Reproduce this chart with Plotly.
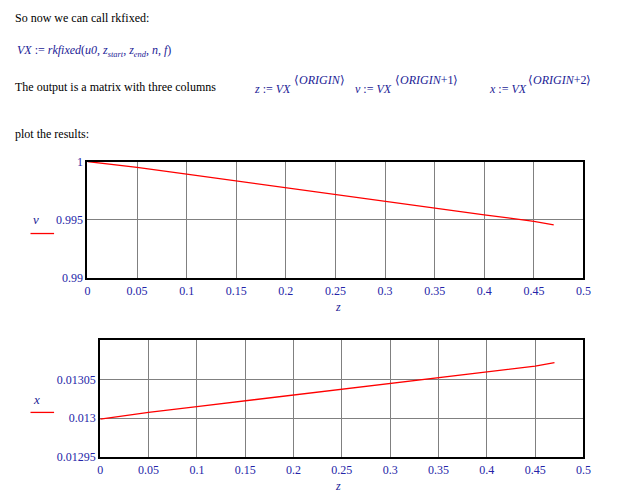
import plotly.graph_objects as go

W, H = 618, 504

# data
z_vals = [0.0, 0.05, 0.10, 0.15, 0.20, 0.25, 0.30, 0.35, 0.40, 0.45, 0.47]
v_vals = [1.0, 0.9995, 0.99892, 0.99833, 0.9978, 0.99717, 0.99658, 0.996, 0.99544, 0.99488, 0.99458]
x_vals = [0.012999, 0.0130075, 0.013015, 0.0130225, 0.01303, 0.0130379, 0.0130445,
          0.013052, 0.01306, 0.013067, 0.0130714]

z_ticks = [0, 0.05, 0.1, 0.15, 0.2, 0.25, 0.3, 0.35, 0.4, 0.45, 0.5]
z_tick_text = ["0", "0.05", "0.1", "0.15", "0.2", "0.25", "0.3", "0.35", "0.4", "0.45", "0.5"]
v_ticks = [0.99, 0.995, 1.0]
v_tick_text = ["0.99", "0.995", "1"]
x_ticks = [0.01295, 0.013, 0.01305, 0.0131]
x_tick_text = ["0.01295", "0.013", "0.01305", ""]

SERIF = "Liberation Serif"
TICKC = "#2424a8"
MATHC = "#1c1c96"


def px(x):
    return x / W


def py(y):
    return 1 - y / H


fig = go.Figure()
fig.add_trace(go.Scatter(x=z_vals, y=v_vals, mode="lines", line=dict(color="#ff0000", width=1.3),
                         xaxis="x", yaxis="y", showlegend=False, hoverinfo="skip"))
fig.add_trace(go.Scatter(x=z_vals, y=x_vals, mode="lines", line=dict(color="#ff0000", width=1.3),
                         xaxis="x2", yaxis="y2", showlegend=False, hoverinfo="skip"))

axis_common = dict(showline=True, linecolor="black", linewidth=2, mirror=True,
                   showgrid=True, gridcolor="#808080", gridwidth=1.3, zeroline=False,
                   ticks="", tickfont=dict(family=SERIF, size=12, color=TICKC))

fig.update_layout(
    width=W, height=H, margin=dict(l=0, r=0, t=0, b=0),
    paper_bgcolor="white", plot_bgcolor="white", showlegend=False,
    xaxis=dict(domain=[px(86), px(591)], range=[0, 0.5], tickvals=z_ticks, ticktext=z_tick_text,
               anchor="y", **axis_common),
    yaxis=dict(domain=[py(279), py(159)], range=[0.99, 1.0], tickvals=v_ticks, ticktext=v_tick_text,
               anchor="x", **axis_common),
    xaxis2=dict(domain=[px(99), px(591)], range=[0, 0.5], tickvals=z_ticks, ticktext=z_tick_text,
                anchor="y2", **axis_common),
    yaxis2=dict(domain=[py(463), py(343)], range=[0.01295, 0.0131], tickvals=x_ticks, ticktext=x_tick_text,
                anchor="x2", **axis_common),
)

ann = []


def text(x, y, s, size=12, color="black", xanchor="left"):
    ann.append(dict(x=px(x), y=py(y), xref="paper", yref="paper", text=s, showarrow=False,
                    xanchor=xanchor, yanchor="middle", borderpad=0,
                    font=dict(family=SERIF, size=size, color=color)))


text(11, 11, "So now we can call rkfixed:")
text(13, 45, "<i>VX</i> := <i>rkfixed</i>(<i>u0</i>, <i>z</i><sub><i>start</i></sub>, <i>z</i><sub><i>end</i></sub>, <i>n</i>, <i>f</i>)",
     size=12, color=MATHC)
text(11, 82, "The output is a matrix with three columns")
text(11, 131, "plot the results:")

# column definitions: base and raised superscript
text(255, 84, "<i>z</i> := <i>VX</i>", size=12, color=MATHC)
text(295, 75, "\u27e8<i>ORIGIN</i>\u27e9", size=12, color=MATHC)
text(357, 84, "<i>v</i> := <i>VX</i>", size=12, color=MATHC)
text(398, 75, "\u27e8<i>ORIGIN</i>+1\u27e9", size=12, color=MATHC)
text(494, 84, "<i>x</i> := <i>VX</i>", size=12, color=MATHC)
text(534, 75, "\u27e8<i>ORIGIN</i>+2\u27e9", size=12, color=MATHC)

text(341, 309, "<i>z</i>", size=12, color=MATHC, xanchor="center")
text(341, 493, "<i>z</i>", size=12, color=MATHC, xanchor="center")
text(34, 219, "<i>v</i>", size=13, color=MATHC, xanchor="center")
text(34, 404, "<i>x</i>", size=13, color=MATHC, xanchor="center")

fig.update_layout(annotations=ann)

fig.add_shape(type="line", xref="paper", yref="paper", x0=px(28), x1=px(52), y0=py(233), y1=py(233),
              line=dict(color="#ff0000", width=1.3))
fig.add_shape(type="line", xref="paper", yref="paper", x0=px(28), x1=px(52), y0=py(417), y1=py(417),
              line=dict(color="#ff0000", width=1.3))

fig.write_html("out.html", config={"displayModeBar": False},
               post_script="document.body.style.margin='0';")
